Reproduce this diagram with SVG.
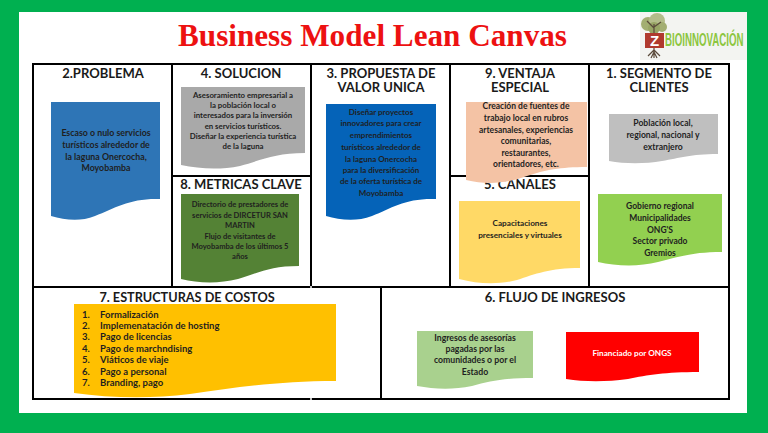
<svg xmlns="http://www.w3.org/2000/svg" width="768" height="433" viewBox="0 0 768 433">
<style>
.h{font:700 13px Lato,"Open Sans",sans-serif;fill:#1a1a1a;text-anchor:middle}
.t{font:700 8.200px Lato,"Open Sans",sans-serif;fill:#1f1f1f;text-anchor:middle}
.l{font:700 9.500px Lato,"Open Sans",sans-serif;fill:#1f1f1f}
.g{stroke:#000;stroke-width:2;fill:none}
</style>
<rect width="768" height="433" fill="#00B050"/>
<rect x="19" y="12" width="728" height="401" fill="#fff"/>
<g id="title"><text x="372.500" y="46" font-family="Liberation Serif,serif" font-weight="700" font-size="31" fill="#ED1111" text-anchor="middle" textLength="389" lengthAdjust="spacingAndGlyphs">Business Model Lean Canvas</text></g>
<g id="logo">
<rect x="640" y="12" width="107" height="48" fill="#F3F4F1"/>
<circle cx="648" cy="24" r="7" fill="#A3AE72"/><circle cx="657" cy="21" r="8" fill="#B4BC8A"/><circle cx="662" cy="27" r="5" fill="#A3AE72"/><circle cx="654" cy="28" r="6" fill="#98A565"/>
<path d="M654 33V24M654 28L647 21M654 27L661 22M654 47V58M654 50L648 56M654 50L660 56M654 52L651 58M654 52L657 58" stroke="#5A4A3A" stroke-width="1.200" fill="none"/>
<rect x="645" y="33" width="19" height="15" fill="#B03A2E"/>
<text x="654.500" y="46" font-family="Liberation Sans,sans-serif" font-weight="700" font-size="15" fill="#fff" text-anchor="middle">Z</text>
<text transform="translate(665 46) scale(.54 1)" font-family="Liberation Sans,sans-serif" font-weight="700" font-size="18" fill="#8CC63F">BIOINNOVACIÓN</text>
</g>
<g id="connectors">
<path class="g" d="M33 64H729V399H33ZM172 64V287M311 64V287M450 64V287M589 64V287M33 287H729M381 287V399M172 176H311M450 176H589"/>
<path d="M311 286V288M311 398V400" stroke="#fff" stroke-width="1.500"/>
</g>
<g id="n2"><path fill="#2E75B6" d="M51 102H160V199C130 198 115 208 95 216C80 222 65 220 51 216Z"/>
<text class="h" x="103" y="78">2.PROBLEMA</text>
<text class="t" style="font-size:8.800px"><tspan x="106" y="136">Escaso o nulo servicios</tspan><tspan x="106" y="148">turísticos alrededor de</tspan><tspan x="106" y="160">la laguna Onercocha,</tspan><tspan x="106" y="171">Moyobamba</tspan></text></g>
<g id="n4"><path fill="#A9A9A9" d="M181 87H305V153C275 153 262 160 240 166C220 170 200 169 181 165Z"/>
<text class="h" x="241" y="78">4. SOLUCION</text>
<text class="t" style="font-size:7.800px"><tspan x="243" y="98">Asesoramiento empresarial a</tspan><tspan x="243" y="108">la población local o</tspan><tspan x="243" y="118">interesados para la inversión</tspan><tspan x="243" y="129">en servicios turísticos.</tspan><tspan x="243" y="139">Diseñar la experiencia turística</tspan><tspan x="243" y="149">de la laguna</tspan></text></g>
<g id="n8"><path fill="#548235" d="M181 194H299V266C270 266 258 273 238 279C218 284 198 283 181 279Z"/>
<text class="h" x="241" y="189">8. METRICAS CLAVE</text>
<text class="t" style="font-size:7.600px"><tspan x="240" y="207">Directorio de prestadores de</tspan><tspan x="240" y="218">servicios de DIRCETUR SAN</tspan><tspan x="240" y="228">MARTIN</tspan><tspan x="240" y="239">Flujo de visitantes de</tspan><tspan x="240" y="249">Moyobamba de los últimos 5</tspan><tspan x="240" y="259">años</tspan></text></g>
<g id="n3"><path fill="#0563B8" d="M326 104H436V199C405 198 392 208 372 216C356 222 340 220 326 216Z"/>
<text class="h"><tspan x="381" y="78">3. PROPUESTA DE</tspan><tspan x="381" y="92">VALOR UNICA</tspan></text>
<text class="t" style="font-size:8px"><tspan x="381" y="115">Diseñar proyectos</tspan><tspan x="381" y="126">innovadores para crear</tspan><tspan x="381" y="138">emprendimientos</tspan><tspan x="381" y="150">turísticos alrededor de</tspan><tspan x="381" y="162">la laguna Onercocha</tspan><tspan x="381" y="173">para la diversificación</tspan><tspan x="381" y="184">de la oferta turística de</tspan><tspan x="381" y="196">Moyobamba</tspan></text></g>
<g id="n5"><text class="h" x="520" y="189">5. CANALES</text>
<path fill="#FFD966" d="M459 201H580V268C550 268 535 274 517 280C498 285 478 284 459 279Z"/>
<text class="t"><tspan x="520" y="226">Capacitaciones</tspan><tspan x="520" y="238">presenciales y virtuales</tspan></text></g>
<g id="n9"><path fill="#F4C3A5" d="M466 102H587V167C560 167 545 170 527 176C510 182 490 186 466 180Z"/>
<text class="h"><tspan x="520" y="78">9. VENTAJA</tspan><tspan x="520" y="92">ESPECIAL</tspan></text>
<text class="t" style="font-size:8.500px"><tspan x="526" y="109">Creación de fuentes de</tspan><tspan x="526" y="121">trabajo local en rubros</tspan><tspan x="526" y="133">artesanales, experiencias</tspan><tspan x="526" y="144">comunitarias,</tspan><tspan x="526" y="156">restaurantes,</tspan><tspan x="526" y="167">orientadores, etc.</tspan></text></g>
<g id="n1"><text class="h"><tspan x="659" y="78">1. SEGMENTO DE</tspan><tspan x="659" y="92">CLIENTES</tspan></text>
<path fill="#BFBFBF" d="M609 114H718V154C690 154 680 158 662 161C645 164 625 164 609 161Z"/>
<text class="t" style="font-size:8.600px"><tspan x="663" y="126">Población local,</tspan><tspan x="663" y="138">regional, nacional y</tspan><tspan x="663" y="150">extranjero</tspan></text>
<path fill="#92D050" d="M598 194H722V252C692 252 678 257 658 262C638 267 616 266 598 262Z"/>
<text class="t" style="font-size:8.500px"><tspan x="660" y="209">Gobierno regional</tspan><tspan x="660" y="221">Municipalidades</tspan><tspan x="660" y="233">ONG'S</tspan><tspan x="660" y="244">Sector privado</tspan><tspan x="660" y="256">Gremios</tspan></text></g>
<g id="n7"><path fill="#FFC000" d="M74 304H336V381C280 381 240 387 190 394C150 399 110 398 74 393Z"/>
<text class="h" x="187" y="302" style="font-size:12.700px">7. ESTRUCTURAS DE COSTOS</text>
<text class="l"><tspan x="82" y="318">1.</tspan><tspan x="100" y="318">Formalización</tspan><tspan x="82" y="329">2.</tspan><tspan x="100" y="329">Implemenatación de hosting</tspan><tspan x="82" y="340">3.</tspan><tspan x="100" y="340">Pago de licencias</tspan><tspan x="82" y="352">4.</tspan><tspan x="100" y="352">Pago de marchndising</tspan><tspan x="82" y="363">5.</tspan><tspan x="100" y="363">Viáticos de viaje</tspan><tspan x="82" y="375">6.</tspan><tspan x="100" y="375">Pago a personal</tspan><tspan x="82" y="386">7.</tspan><tspan x="100" y="386">Branding, pago</tspan></text></g>
<g id="n6"><text class="h" x="555" y="302">6. FLUJO DE INGRESOS</text>
<path fill="#A9D18E" d="M417 331H533V378C505 378 490 381 472 386C452 390 434 389 417 386Z"/>
<text class="t" style="font-size:8.700px"><tspan x="475" y="341">Ingresos de asesorías</tspan><tspan x="475" y="352">pagadas por las</tspan><tspan x="475" y="363">comunidades o por el</tspan><tspan x="475" y="375">Estado</tspan></text>
<path fill="#FF0000" d="M566 332H699V372C665 372 648 375 628 379C606 382 585 382 566 379Z"/>
<text class="t" style="fill:#fff" x="632" y="356">Financiado por ONGS</text></g>
</svg>
